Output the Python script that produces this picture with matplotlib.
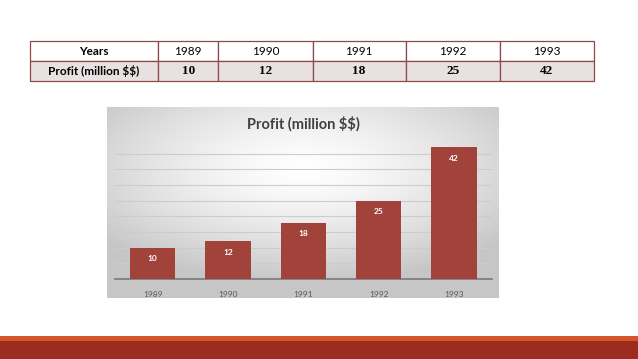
import numpy as np
import matplotlib
matplotlib.use("Agg")
import matplotlib.pyplot as plt
from matplotlib.patches import Rectangle

plt.rcParams["text.parse_math"] = False

years = ["1989", "1990", "1991", "1992", "1993"]
profit = [10, 12, 18, 25, 42]
row_labels = ["Years", "Profit (million $$)"]
chart_title = "Profit (million $$)"

bar_color = "#a1433a"
border_color = "#8e4a4a"

fig = plt.figure(figsize=(6.38, 3.59), dpi=100)
fig.patch.set_facecolor("white")

# bottom band
fig.patches.append(Rectangle((0, 0), 1, 18.5 / 359, transform=fig.transFigure,
                             facecolor="#9c2b20", edgecolor="none", zorder=0))
fig.patches.append(Rectangle((0, 18.5 / 359), 1, 5 / 359, transform=fig.transFigure,
                             facecolor="#d6552c", edgecolor="none", zorder=0))

# table
tax = fig.add_axes([30 / 638, 1 - 81 / 359, 564 / 638, 40 / 359])
tax.axis("off")
cells = [[row_labels[0]] + years, [row_labels[1]] + [str(v) for v in profit]]
widths = np.array([128, 60, 94, 93, 94, 94], dtype=float)
tbl = tax.table(cellText=cells, cellLoc="center", bbox=[0, 0, 1, 1],
                colWidths=list(widths / widths.sum()))
tbl.auto_set_font_size(False)
for (r, c), cell in tbl.get_celld().items():
    cell.set_edgecolor(border_color)
    cell.set_linewidth(0.9)
    cell.set_facecolor("white" if r == 0 else "#e9e0e1")
    t = cell.get_text()
    t.set_fontsize(8.5)
    t.set_color("black")
    if c == 0:
        t.set_fontfamily("Lato")
        t.set_fontweight("bold")
    elif r == 0:
        t.set_fontfamily("Lato")
    else:
        t.set_fontfamily("Liberation Serif")
        t.set_fontweight("bold")
        t.set_fontsize(9.5)

# chart panel with radial gradient
pax = fig.add_axes([107.3 / 638, 1 - 298.3 / 359, 392 / 638, 191 / 359])
gx, gy = np.meshgrid(np.linspace(-1, 1, 400), np.linspace(-1, 1, 200))
rad = np.clip(np.sqrt((gx * 1.0) ** 2 + ((gy + 0.35) * 1.1) ** 2), 0, 1.3)
shade = 1.0 - 0.22 * (rad / 1.3) ** 1.4
pax.imshow(np.dstack([shade] * 3), extent=[0, 1, 0, 1], aspect="auto", origin="upper")
pax.set_xlim(0, 1)
pax.set_ylim(0, 1)
pax.axis("off")
pax.text(0.5, 0.915, chart_title, ha="center", va="center", fontsize=10.5,
         color="#404040", family="Lato", fontweight="bold")

# bar chart
ax = fig.add_axes([115 / 638, 1 - 279 / 359, 376.7 / 638, 141 / 359])
ax.patch.set_alpha(0)
x = np.arange(len(years))
bars = ax.bar(x, profit, width=0.6, color=bar_color, zorder=3)
ax.set_xlim(-0.5, len(years) - 0.5)
ax.set_ylim(0, 45)
ax.set_yticks(np.arange(5, 45, 5))
ax.yaxis.grid(True, color="#cccccc", linewidth=0.8, zorder=0)
ax.tick_params(axis="y", left=False, labelleft=False)
ax.tick_params(axis="x", bottom=False, labelsize=6, colors="#595959", pad=5)
ax.set_xticks(x)
ax.set_xticklabels(years, family="Lato")
for side in ["top", "right", "left"]:
    ax.spines[side].set_visible(False)
ax.spines["bottom"].set_color("#7f7f7f")
ax.spines["bottom"].set_linewidth(1.3)
for b, v in zip(bars, profit):
    ax.annotate(str(v), (b.get_x() + b.get_width() / 2, v), xytext=(0, -8),
                textcoords="offset points", ha="center", va="center",
                fontsize=6, color="white", fontweight="bold", family="Lato")

fig.savefig("out.png", dpi=100)
